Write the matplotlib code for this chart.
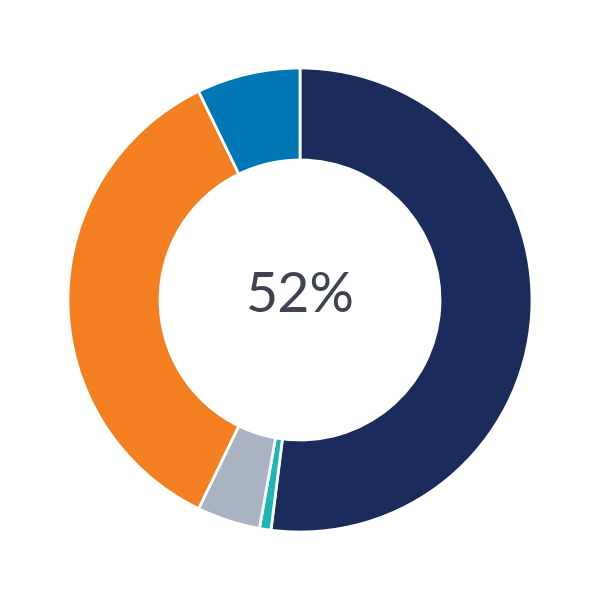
import matplotlib.pyplot as plt

# segment shares, clockwise from 12 o'clock
labels = ["Navy", "Teal", "Gray", "Orange", "Blue"]
values = [52.0, 0.8, 4.4, 35.6, 7.2]
colors = ["#1b2b5b", "#1db6b4", "#a9b3c1", "#f47f20", "#0077b5"]
center_text = "52%"

fig = plt.figure(figsize=(6, 6), dpi=100)
ax = fig.add_axes([0, 0, 1, 1])
ax.pie(values, colors=colors, startangle=90, counterclock=False,
       radius=232, center=(0, 0),
       wedgeprops=dict(width=92, edgecolor="white", linewidth=2))
ax.text(0, 3, center_text, ha="center", va="center",
        fontsize=40, color="#3d4350", family=["Lato", "DejaVu Sans"])
ax.set_xlim(-300, 300)
ax.set_ylim(-300, 300)
ax.set_aspect("equal")
ax.axis("off")
fig.savefig("out.png", dpi=100, facecolor="white")
